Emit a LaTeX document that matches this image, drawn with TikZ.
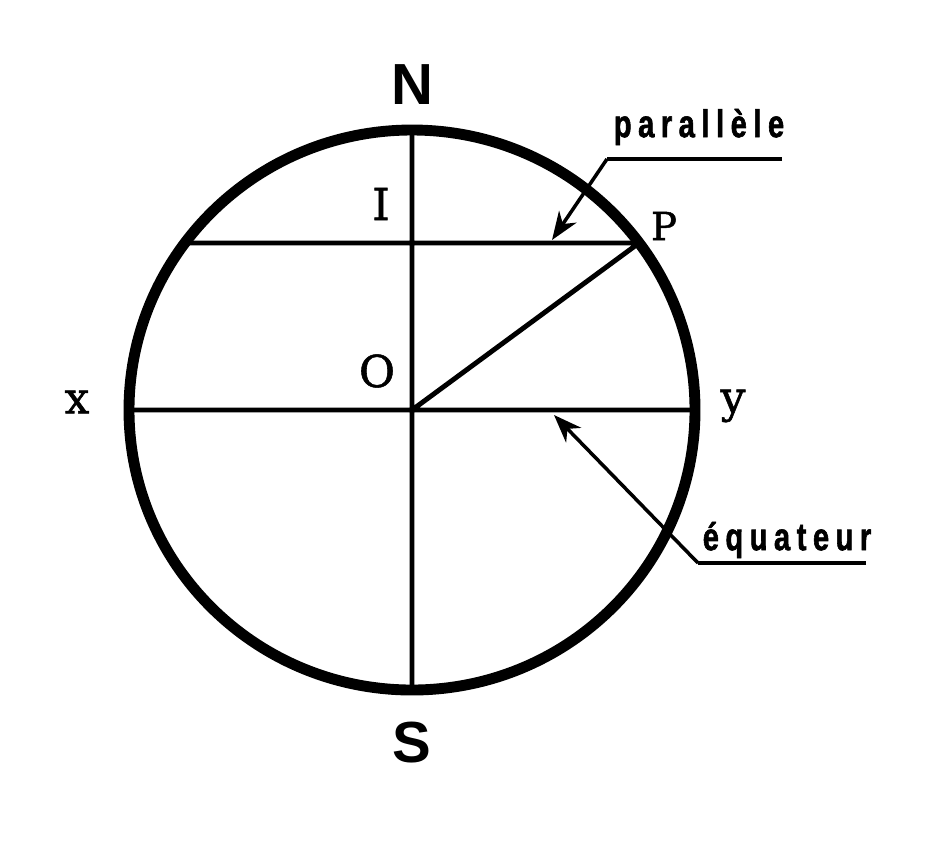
\documentclass[tikz,border=0pt]{standalone}
\usepackage{fontspec}
\setmainfont{DejaVu Serif}
\newfontfamily\lettrefont{DejaVu Serif}[FakeBold=1.2]
\newfontfamily\polefont{Liberation Sans}
\newfontfamily\legfont{Liberation Sans Bold}[FakeStretch=0.75,LetterSpace=17,FakeBold=1.5]
\usetikzlibrary{arrows.meta}
\tikzset{
  pole/.style={font=\polefont\bfseries\fontsize{33}{36}\selectfont},
  lettre/.style={font=\lettrefont\fontsize{25}{28}\selectfont},
  legende/.style={font=\legfont\fontsize{22}{24}\selectfont},
  trait/.style={line width=2.8pt},
  renvoi/.style={line width=2pt},
  fleche/.style={renvoi, -{Stealth[length=16pt,width=12pt,inset=5pt]}},
}

\begin{document}
\begin{tikzpicture}[x=0.02cm,y=-0.02cm] % coordonnees en pixels
\newcommand{\rayonx}{283}
\newcommand{\rayony}{280}
\useasboundingbox (0,0) rectangle (945,846);
\coordinate (O) at (412,410);
\coordinate (Nh) at (412,130);   % pole nord
\coordinate (Sb) at (412,690);   % pole sud
\coordinate (X) at (129,410);
\coordinate (Y) at (695,410);
\coordinate (I) at (412,243);
\coordinate (Pg) at (185,243);
\coordinate (P) at (639,243);
\coordinate (Kp) at (607,159);   % coude parallele
\coordinate (Fp) at (552,240);
\coordinate (Ep) at (782,159);
\coordinate (Ke) at (698,563);   % coude equateur
\coordinate (Fe) at (554,415);
\coordinate (Ee) at (866,563);

\draw[line width=6.2pt] (O) ellipse [x radius=\rayonx, y radius=\rayony];

\draw[trait] (Nh) -- (Sb)
	(X) -- (Y)
	(Pg) -- (P)
	(O) -- (P);

\draw[renvoi] (Ep) -- (Kp);
\draw[fleche] (Kp) -- (Fp);
\draw[renvoi] (Ee) -- (Ke);
\draw[fleche] (Ke) -- (Fe);

\node[pole] (nN) at (412,85) {N};
\node[pole] (nS) at (412,743) {S};
\node[lettre] (nI) at (381,204) {I};
\node[lettre] (nO) at (377,371) {O};
\node[lettre, font=\lettrefont\fontsize{22}{26}\selectfont] (nP) at (664,226) {P};
\node[lettre] (nx) at (77,402) {x};
\node[lettre] (ny) at (733,406) {y};
\node[legende] (npar) at (699,127) {parallèle};
\node[legende] (nequ) at (787,540) {équateur};
\end{tikzpicture}
\end{document}
